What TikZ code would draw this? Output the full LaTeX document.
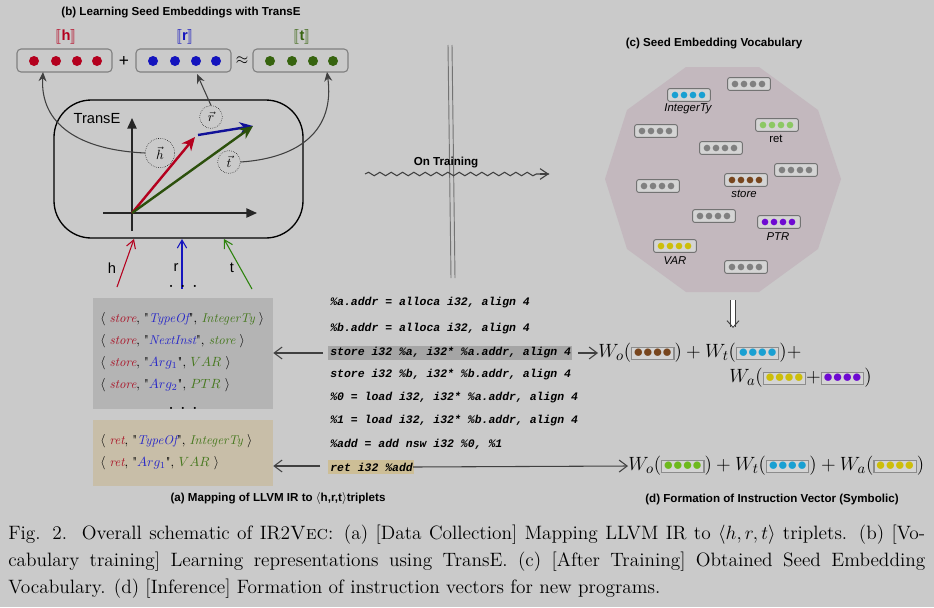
\documentclass[tikz,border=0pt]{standalone}
\usepackage{fontspec}
\setsansfont{Liberation Sans}
\setmonofont{Liberation Mono}
\usepackage{amsmath,stmaryrd}
\usetikzlibrary{decorations.pathmorphing,arrows.meta}
\definecolor{bg}{RGB}{202,202,202}
\definecolor{hred}{RGB}{180,0,30}
\definecolor{rblue}{RGB}{20,20,190}
\definecolor{tgreen}{RGB}{55,100,15}
\definecolor{tred}{RGB}{170,20,40}
\definecolor{tblue}{RGB}{40,40,200}
\definecolor{tgrn}{RGB}{70,120,30}
\definecolor{vcyan}{RGB}{25,160,210}
\definecolor{vlgreen}{RGB}{140,200,100}
\definecolor{vbrown}{RGB}{120,70,30}
\definecolor{vpurple}{RGB}{110,10,210}
\definecolor{vyellow}{RGB}{205,190,10}
\definecolor{vgray}{RGB}{128,128,128}
\definecolor{fgreen}{RGB}{110,185,30}
\definecolor{octfill}{RGB}{195,184,190}
\definecolor{boxone}{RGB}{180,180,180}
\definecolor{boxtwo}{RGB}{200,190,168}
\definecolor{hlgray}{RGB}{165,165,165}
\definecolor{hltan}{RGB}{205,190,150}
\newcommand\vbx[1]{{\setlength\fboxsep{1pt}\setlength\fboxrule{0.9pt}\fcolorbox{black!45}{black!17}{\fontsize{15}{15}\selectfont\textcolor{#1}{$\mathord{\bullet}\mathord{\bullet}\mathord{\bullet}\mathord{\bullet}$}}}}
\newcommand\qq{{\upshape\textquotedbl}}
\begin{document}
\begin{tikzpicture}[x=0.75pt,y=-0.75pt,
  ttl/.style={font=\sffamily\bfseries\fontsize{8.7}{10}\selectfont},
  dotc/.style={circle,inner sep=0,minimum size=7.5pt},
  smv/.style={draw=black!55,line width=0.7pt,fill=black!17,rounded corners=1.5pt,minimum width=32pt,minimum height=9.5pt,inner sep=0},
  sdot/.style={circle,inner sep=0,minimum size=5pt},
  vlab/.style={font=\sffamily\itshape\fontsize{8.5}{9}\selectfont},
  code/.style={font=\ttfamily\bfseries\itshape\fontsize{8.6}{10}\selectfont,anchor=west,inner sep=0},
  trip/.style={font=\fontsize{9.6}{12}\selectfont,anchor=west,inner sep=0},
  garr/.style={draw=black!75,line width=0.8pt,-{Straight Barb[length=6pt,width=9pt]}},
  curv/.style={draw=black!75,line width=0.8pt,-{Stealth[length=7pt,width=6pt]}},
  formula/.style={font=\fontsize{15}{17}\selectfont,anchor=west,inner sep=0}]
\fill[bg] (0,0) rectangle (934,607);
\useasboundingbox (0,0) rectangle (934,607);
% ---------- (b)
\node[ttl] (tb) at (181,13) {(b) Learning Seed Embeddings with TransE};
\foreach \n/\x/\c/\l in {h/17/hred/h,r/136/rblue/r,t/253/tgreen/t}{
  \draw[black!50,line width=0.8pt,rounded corners=3pt,fill=bg] (\x,49) rectangle ++(95,23);
  \node[font=\sffamily\bfseries\fontsize{11}{12}\selectfont,text=\c] (lab\n) at (\x+49,37) {$\llbracket$\l$\rrbracket$};
  \foreach \i/\d in {1/17,2/39,3/60,4/80}{\node[dotc,fill=\c] (\n d\i) at (\x+\d,61) {};}
  \coordinate (\n box) at (\x+47,72);
}
\node[font=\sffamily\fontsize{13}{14}\selectfont] (plus) at (124,61) {+};
\node[font=\fontsize{13}{14}\selectfont] (approx) at (242,61) {$\approx$};
\node[draw,line width=1pt,rounded corners=28pt,minimum width=249*0.75pt,minimum height=138*0.75pt] (transe) at (178.5,169) {};
\node[font=\sffamily\fontsize{11}{12}\selectfont] (tlab) at (97,119) {TransE};
\coordinate (O) at (132,213);
\coordinate (yt) at (132,118);
\coordinate (xt) at (257,213);
\coordinate (ybot) at (132,231);
\coordinate (xl) at (103,213);
\draw[line width=1.1pt,black!85,-{Triangle[length=8pt,width=7pt]}] (ybot) -- (yt);
\draw[line width=1.1pt,black!85,-{Triangle[length=8pt,width=7pt]}] (xl) -- (xt);
\coordinate (hT) at (195,137);
\coordinate (rT) at (253,126);
\draw[line width=1.8pt,hred,-{Stealth[length=10pt,width=9pt]}] (O) -- (hT);
\draw[line width=1.8pt,rblue!80!black,-{Stealth[length=10pt,width=9pt]}] (198,135) -- (rT);
\draw[line width=1.8pt,tgreen!80!black,-{Stealth[length=10pt,width=9pt]}] (O) -- (rT);
\node[circle,draw,densely dotted,minimum size=22pt,inner sep=0] (ch) at (160,153) {$\vec h$};
\node[circle,draw,densely dotted,minimum size=17pt,inner sep=0] (cr) at (211,117) {$\vec r$};
\node[circle,draw,densely dotted,minimum size=17pt,inner sep=0] (ct) at (229,162) {$\vec t$};
\draw[curv] (ch.west) .. controls (80,150) and (40,125) .. (hbox-|43,72);
\draw[curv] (cr.north) -- (197,74);
\draw[curv] (ct.east) .. controls (300,158) and (335,130) .. (327,72);
% inputs
\coordinate (ih) at (117,287); \coordinate (ir) at (182,289); \coordinate (it) at (252,289);
\draw[hred,line width=0.8pt,-{Straight Barb[length=6pt,width=7pt]}] (ih) -- (134,239);
\draw[rblue,line width=0.8pt,-{Straight Barb[length=6pt,width=7pt]}] (ir) -- (182,239);
\draw[tgreen!80!green,line width=0.8pt,-{Straight Barb[length=6pt,width=7pt]}] (it) -- (224,239);
\node[font=\sffamily\fontsize{11}{12}\selectfont] (lh) at (112,268) {h};
\node[font=\sffamily\fontsize{11}{12}\selectfont] (lr) at (176,268) {r};
\node[font=\sffamily\fontsize{11}{12}\selectfont] (lt) at (232,268) {t};
\node[font=\bfseries\fontsize{11}{12}\selectfont] (dots1) at (183,286) {. . .};
% ---------- divider and training
\draw[black!55,line width=0.7pt] (448,45) -- (451,278);
\draw[black!55,line width=0.7pt] (452,45) -- (455,278);
\coordinate (ws) at (365,174); \coordinate (we) at (549,174);
\draw[black!75,line width=0.8pt,decorate,decoration={snake,amplitude=1.3pt,segment length=8.5pt,post length=8pt}] (ws) -- (we);
\draw[black!75,line width=0.8pt,-{Straight Barb[length=6pt,width=8pt]}] (540,174) -- (we);
\node[ttl] (ontr) at (446,163) {On Training};
% ---------- (c)
\node[ttl] (tc) at (714,44) {(c) Seed Embedding Vocabulary};
\fill[octfill] (686,67) -- (759,67) -- (818,110) -- (841,179) -- (818,249) -- (759,292) -- (686,292) -- (627,249) -- (605,179) -- (627,110) -- cycle;
\foreach \n/\x/\y/\c in {g1/749/84/vgray,it/689/95/vcyan,g2/656/131/vgray,rt/777/125/vlgreen,g3/721/148/vgray,g4/796/170/vgray,st/746/180/vbrown,g5/658/186/vgray,g6/714/216/vgray,pt/779/222/vpurple,va/675/246/vyellow,g7/746/267/vgray}{
  \node[smv] (\n) at (\x,\y) {};
  \foreach \i/\d in {1/-14,2/-5,3/4,4/13}{\node[sdot,fill=\c] at (\x+\d,\y) {};}
}
\node[vlab] (lit) at (688,109) {IntegerTy};
\node[vlab,font=\sffamily\fontsize{8.5}{9}\selectfont] (lrt) at (776,139) {ret};
\node[vlab] (lst) at (744,194) {store};
\node[vlab] (lpt) at (778,237) {PTR};
\node[vlab] (lva) at (675,261) {VAR};
\draw[black!75,line width=0.7pt,double,double distance=2.5pt,-{Straight Barb[length=5pt,width=9pt]}] (733,300) -- (733,328);
% ---------- (a)
\node[fill=boxone,minimum width=135pt,minimum height=83pt,inner sep=0] (b1) at (183,353.5) {};
\node[fill=boxtwo,minimum width=135pt,minimum height=49.5pt,inner sep=0] (b2) at (183,453) {};
\node[trip] (t1) at (100,319) {$\langle$ \textcolor{tred}{\itshape store}, \qq\textcolor{tblue}{\itshape TypeOf}\qq, \textcolor{tgrn}{\itshape IntegerTy} $\rangle$};
\node[trip] (t2) at (100,341) {$\langle$ \textcolor{tred}{\itshape store}, \qq\textcolor{tblue}{\itshape NextInst}\qq, \textcolor{tgrn}{\itshape store} $\rangle$};
\node[trip] (t3) at (100,363) {$\langle$ \textcolor{tred}{\itshape store}, \qq\textcolor{tblue}{$Arg_1$}\qq, \textcolor{tgrn}{$VAR$} $\rangle$};
\node[trip] (t4) at (100,385) {$\langle$ \textcolor{tred}{\itshape store}, \qq\textcolor{tblue}{$Arg_2$}\qq, \textcolor{tgrn}{$PTR$} $\rangle$};
\node[font=\bfseries\fontsize{11}{12}\selectfont] (dots2) at (183,408) {. . .};
\node[trip] (t5) at (100,441) {$\langle$ \textcolor{tred}{\itshape ret}, \qq\textcolor{tblue}{\itshape TypeOf}\qq, \textcolor{tgrn}{\itshape IntegerTy} $\rangle$};
\node[trip] (t6) at (100,463) {$\langle$ \textcolor{tred}{\itshape ret}, \qq\textcolor{tblue}{$Arg_1$}\qq, \textcolor{tgrn}{$VAR$} $\rangle$};
\fill[hlgray] (328,346) rectangle (572,360);
\fill[hltan] (328,460) rectangle (414,474);
\node[code] (c1) at (330,303) {\%a.addr = alloca i32, align 4};
\node[code] (c2) at (330,329) {\%b.addr = alloca i32, align 4};
\node[code] (c3) at (330,353) {store i32 \%a, i32* \%a.addr, align 4};
\node[code] (c4) at (330,375) {store i32 \%b, i32* \%b.addr, align 4};
\node[code] (c5) at (330,398) {\%0 = load i32, i32* \%a.addr, align 4};
\node[code] (c6) at (330,421) {\%1 = load i32, i32* \%b.addr, align 4};
\node[code] (c7) at (330,444) {\%add = add nsw i32 \%0, \%1};
\node[code] (c8) at (330,467) {ret i32 \%add};
\node[ttl] (ta) at (278,498) {(a) Mapping of LLVM IR to $\langle$h,r,t$\rangle$triplets};
\draw[garr] (323,353) -- (b1.east|-323,353);
\draw[garr] (320,466) -- (b2.east|-320,466);
% ---------- (d)
\node[formula] (f1) at (598,353) {$W_o($\vbx{vbrown}$)+W_t($\vbx{vcyan}$)+$};
\node[formula] (f2) at (729,378) {$W_a($\vbx{vyellow}$+$\vbx{vpurple}$)$};
\node[formula] (f3) at (628,466) {$W_o($\vbx{fgreen}$)+W_t($\vbx{vcyan}$)+W_a($\vbx{vyellow}$)$};
\draw[garr] (578,353) -- (f1.west);
\draw[garr] (c8.east) -- (f3.west);
\node[ttl] (td) at (772,499) {(d) Formation of Instruction Vector (Symbolic)};
% ---------- caption
\node[anchor=north west,inner sep=0,text width=917*0.75pt,align=justify,font=\fontsize{14.5}{20.3}\selectfont] (cap) at (8,525) {\hbadness=10000\hfuzz=20pt Fig. 2.\ \ Overall schematic of IR2\textsc{Vec}: (a) [Data Collection] Mapping LLVM IR to $\langle h,r,t\rangle$ triplets. (b) [Vo-\linebreak cabulary training] Learning representations using TransE. (c) [After Training] Obtained Seed Embedding\linebreak Vocabulary. (d) [Inference] Formation of instruction vectors for new programs.\par};
\end{tikzpicture}
\end{document}
